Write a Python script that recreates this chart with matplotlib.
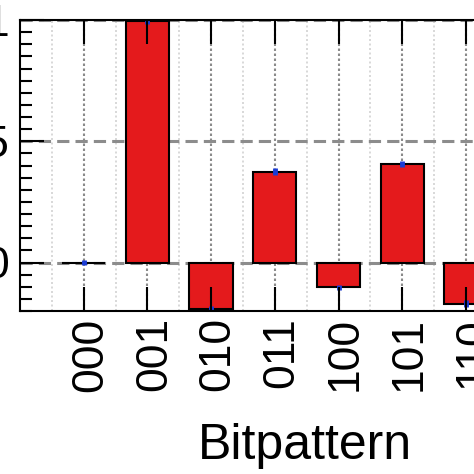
import matplotlib.pyplot as plt
from matplotlib.transforms import ScaledTranslation
import numpy as np

plt.rcParams['font.family'] = ['Liberation Sans', 'DejaVu Sans']

patterns = ['000', '001', '010', '011', '100', '101', '110']
values = [0.0, 0.995, -0.19, 0.375, -0.103, 0.405, -0.17]
errors = [0.012, 0.012, 0.012, 0.014, 0.012, 0.012, 0.014]

ytick_vals = [0, 0.5, 1]
ytick_labels = ['0', '0.5', '1']

red = '#E41A1C'
blue = '#1a3cd6'

fig = plt.figure(figsize=(4.74, 4.74), dpi=100)
pos = [20 / 474, 1 - 311 / 474, 8 * 63.7 / 474, 291 / 474]

# back axes: grid + bars
ax = fig.add_axes(pos)
x = np.arange(len(patterns))
ax.bar(x, values, width=0.68, color=red, edgecolor='black', linewidth=1.5, zorder=2)
ax.errorbar(x, values, yerr=errors, fmt='none', ecolor=blue, elinewidth=3.5, capsize=0, zorder=3)
ax.set_xlim(-1, 7)
ax.set_ylim(-0.2, 1.0)
ax.set_xticks(x)
ax.set_xticks(np.append(x - 0.5, x[-1] + 0.5), minor=True)
ax.set_yticks(ytick_vals)
ax.set_yticks(np.arange(-0.2, 1.0001, 0.05), minor=True)
ax.set_axisbelow(True)
ax.grid(which='major', axis='x', color='#8a8a8a', linestyle=(0, (1.2, 1.2)), linewidth=1.5)
ax.grid(which='minor', axis='x', color='#d2d2d2', linestyle=(0, (1.2, 1.5)), linewidth=1.2)
ax.grid(which='major', axis='y', color='#8c8c8c', linestyle=(0, (4, 2)), linewidth=2.2)
ax.tick_params(which='both', length=0, labelbottom=False, labelleft=False)
for s in ax.spines.values():
    s.set_visible(False)

# front axes: spines + ticks on top of the bars
ax2 = fig.add_axes(pos, sharex=ax, sharey=ax)
ax2.patch.set_visible(False)
ax2.grid(False)
ax2.set_xticklabels(patterns)
ax2.set_yticklabels(ytick_labels)
ax2.tick_params(axis='x', which='major', direction='in', length=17, width=1.5,
                top=True, bottom=True, labelsize=32, labelrotation=90, pad=4.5)
ax2.tick_params(axis='x', which='minor', length=0)
ax2.tick_params(axis='y', which='major', direction='in', length=17, width=1.5,
                labelsize=32, pad=8)
ax2.tick_params(axis='y', which='minor', direction='in', length=8.6, width=1.5)
for s in ax2.spines.values():
    s.set_linewidth(1.5)

shift = ScaledTranslation(7 / 100, 0, fig.dpi_scale_trans)
for lab in ax2.get_xticklabels():
    lab.set_transform(lab.get_transform() + shift)

fig.text(305 / 474, 1 - 459 / 474, 'Bitpattern', ha='center', va='baseline', fontsize=36)

fig.savefig('out.png', dpi=100)
plt.close(fig)
